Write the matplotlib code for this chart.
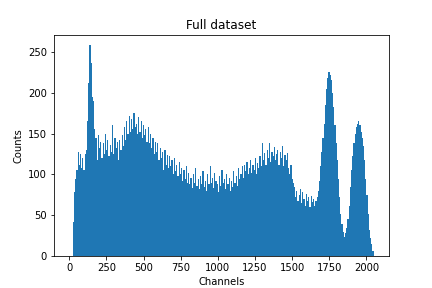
import numpy as np
import matplotlib
import matplotlib.pyplot as plt

matplotlib.use("Agg")

# counts per 8-channel bin, channels 0..2047
counts = [
    0, 0, 0, 42, 78, 95, 105, 128,
    112, 125, 108, 120, 105, 125, 130, 165,
    212, 258, 236, 195, 190, 155, 145, 118,
    148, 132, 140, 120, 138, 125, 150, 130,
    142, 122, 136, 128, 160, 125, 145, 132,
    140, 118, 142, 130, 148, 135, 158, 142,
    165, 150, 172, 152, 168, 155, 175, 158,
    162, 150, 170, 152, 165, 145, 160, 148,
    155, 140, 158, 138, 150, 132, 145, 125,
    140, 128, 138, 118, 132, 120, 128, 105,
    130, 112, 124, 108, 122, 110, 118, 100,
    120, 104, 112, 98, 115, 100, 108, 92,
    105, 95, 110, 90, 102, 88, 96, 84,
    100, 90, 108, 86, 95, 82, 98, 88,
    104, 85, 92, 80, 100, 88, 110, 90,
    96, 84, 102, 92, 88, 78, 98, 86,
    105, 90, 94, 82, 100, 88, 96, 80,
    92, 85, 104, 90, 98, 86, 108, 95,
    100, 110, 96, 112, 104, 115, 100, 108,
    118, 102, 112, 106, 120, 100, 114, 108,
    122, 110, 138, 118, 126, 112, 130, 120,
    138, 115, 128, 122, 134, 118, 125, 130,
    112, 128, 120, 135, 110, 124, 118, 126,
    108, 100, 112, 95, 90, 85, 72, 80,
    68, 75, 82, 65, 78, 70, 62, 76,
    68, 72, 60, 74, 66, 70, 62, 68,
    72, 80, 92, 110, 128, 145, 162, 185,
    205, 218, 225, 222, 215, 200, 182, 160,
    138, 118, 95, 72, 52, 40, 30, 24,
    28, 35, 45, 62, 85, 105, 122, 138,
    150, 158, 162, 165, 160, 152, 145, 135,
    118, 95, 75, 52, 32, 22, 15, 6,
]
bin_width = 8
edges = np.arange(0, bin_width * len(counts) + 1, bin_width)
xtick_pos = np.arange(0, 2001, 250)

fig, ax = plt.subplots(figsize=(6, 4), dpi=72)
ax.hist(edges[:-1], bins=edges, weights=counts)
ax.set_xticks(xtick_pos)
ax.set_title("Full dataset")
ax.set_xlabel("Channels")
ax.set_ylabel("Counts")

fig.savefig("out.png", dpi=72)
